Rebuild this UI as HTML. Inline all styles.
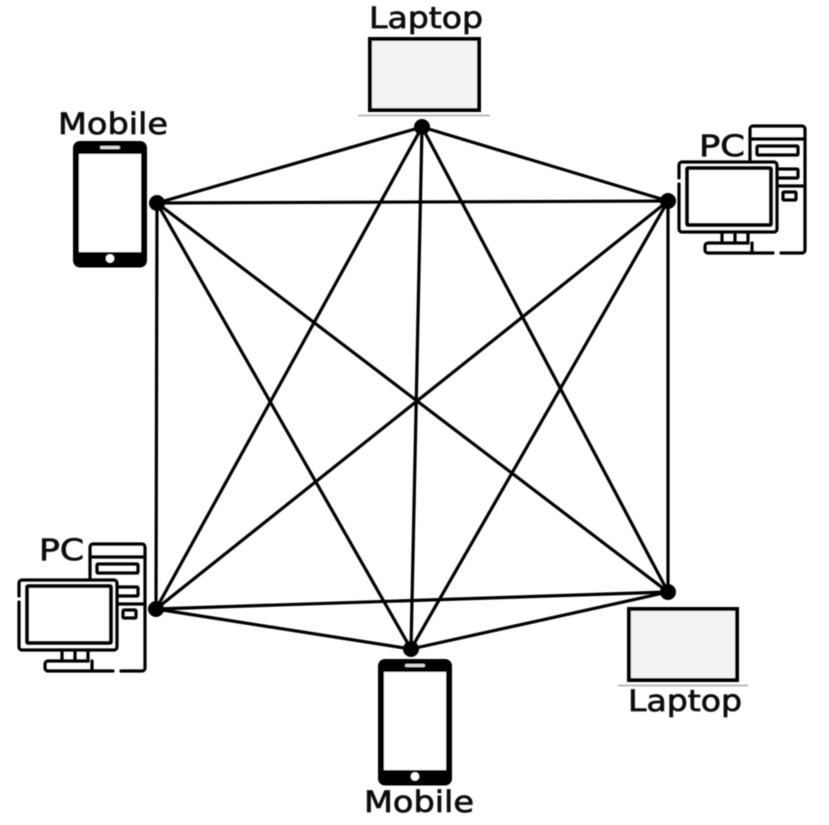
<!DOCTYPE html>
<html><head><meta charset="utf-8">
<style>html,body{margin:0;padding:0;background:#fff}svg{display:block}
text{font-family:"DejaVu Sans","Liberation Sans",sans-serif;font-size:29px;fill:#111;stroke:#111;stroke-width:.7}</style>
</head><body>
<svg width="829" height="825" viewBox="0 0 829 825" xmlns="http://www.w3.org/2000/svg">
<defs>
<filter id="b" x="-2%" y="-2%" width="104%" height="104%"><feGaussianBlur stdDeviation="0.45"/></filter>
<g id="pc" fill="none" stroke="#000" stroke-width="3.2" stroke-linejoin="round" stroke-linecap="round">
  <path d="M750 160V129a3 3 0 0 1 3-3h49a3 3 0 0 1 3 3v121a3 3 0 0 1-3 3h-21"/>
  <path d="M750 139H805"/>
  <rect x="757" y="146" width="41" height="9" rx="1"/>
  <path d="M778 169H797a1 1 0 0 1 1 1v7a1 1 0 0 1-1 1H778"/>
  <path d="M778 186H805"/>
  <rect x="783" y="192" width="13" height="8" rx="1"/>
  <path d="M679 178V165a3 3 0 0 1 3-3H774a3 3 0 0 1 3 3V229a3 3 0 0 1-3 3H682a3 3 0 0 1-3-3V184"/>
  <rect x="687" y="168" width="84" height="57" rx="1" stroke-width="3.5"/>
  <path d="M722 232V243M735 232V243M748 232V243"/>
  <path d="M748 243H708a3 3 0 0 0-3 3v4a3 3 0 0 0 3 3H773"/>
  <path d="M752 243V253"/>
</g>
<g id="phone">
  <rect x="73" y="141" width="74" height="126.500" rx="7" fill="#000"/>
  <rect x="79" y="154" width="62" height="98" fill="#fff"/>
  <rect x="100" y="146" width="20" height="3" rx="1.500" fill="#ddd"/>
  <circle cx="110" cy="258.500" r="4.200" fill="#fff"/>
</g>
</defs>
<rect width="829" height="825" fill="#fff"/>
<g filter="url(#b)">
<g stroke="#000" stroke-width="3.200" stroke-linecap="round" fill="none">
  <path d="M422 127L157 203M422 127L668 201M422 127L156 609M422 127L668 592M422 127L411 649"/>
  <path d="M157 203L668 201M157 203L156 609M157 203L668 592M157 203L411 649"/>
  <path d="M668 201L156 609M668 201L668 592M668 201L411 649"/>
  <path d="M156 609L668 592M156 609L411 649"/>
  <path d="M668 592L411 649"/>
</g>
<g fill="#000">
  <circle cx="422" cy="127" r="8"/><circle cx="157" cy="203" r="8"/><circle cx="668" cy="201" r="8"/>
  <circle cx="156" cy="609" r="8"/><circle cx="668" cy="592" r="8"/><circle cx="411" cy="649" r="8"/>
</g>
<use href="#phone"/>
<use href="#phone" transform="translate(305 518)"/>
<use href="#pc"/>
<use href="#pc" transform="translate(-660 418)"/>
<rect x="370" y="39" width="109" height="71" fill="#f3f3f3" stroke="#000" stroke-width="4"/>
<path d="M358 115.500H490" stroke="#bbb" stroke-width="2"/>
<rect x="629" y="609" width="108" height="71" fill="#f3f3f3" stroke="#000" stroke-width="4"/>
<path d="M618 685.500H748" stroke="#bbb" stroke-width="2"/>
<text x="369" y="28" textLength="114" lengthAdjust="spacingAndGlyphs">Laptop</text>
<text x="58" y="134" textLength="110" lengthAdjust="spacingAndGlyphs">Mobile</text>
<text x="699" y="156" textLength="46" lengthAdjust="spacingAndGlyphs">PC</text>
<text x="39" y="560" textLength="45" lengthAdjust="spacingAndGlyphs">PC</text>
<text x="628" y="711" textLength="114" lengthAdjust="spacingAndGlyphs">Laptop</text>
<text x="364" y="812" textLength="110" lengthAdjust="spacingAndGlyphs">Mobile</text>
</g>
</svg>
</body></html>
